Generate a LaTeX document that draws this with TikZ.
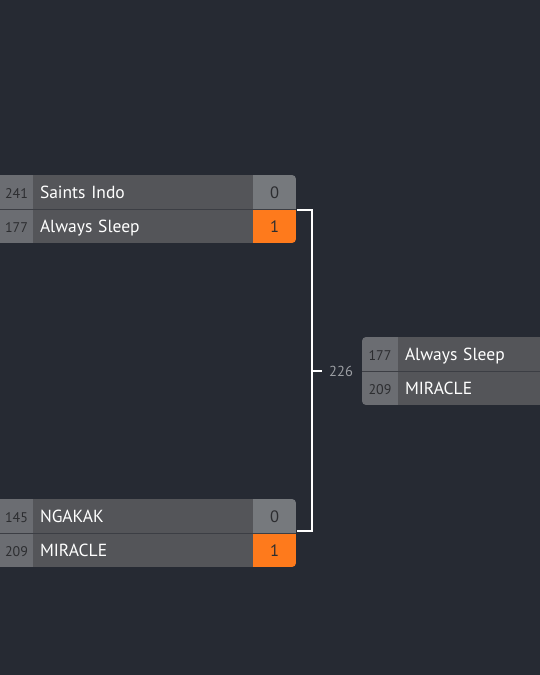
\documentclass[tikz,border=0pt]{standalone}
\usepackage{fontspec}
\setmainfont{PT Sans}
\definecolor{bg}{HTML}{262A33}
\definecolor{seedc}{HTML}{6B6D72}
\definecolor{namec}{HTML}{545559}
\definecolor{scorec}{HTML}{76797D}
\definecolor{winc}{HTML}{FE7A1C}
\definecolor{divc}{HTML}{3C3E44}
\definecolor{seedtxt}{HTML}{2C2D30}
\definecolor{lblc}{HTML}{9B9EA3}
\tikzset{
  cell/.style={rectangle, inner sep=0pt, minimum height=34pt, anchor=north west, outer sep=0pt, text height=13pt, text depth=1pt},
  seedcell/.style={cell, fill=seedc, minimum width=#1, text=seedtxt, font=\fontsize{14}{14}\selectfont},
  namecell/.style={cell, fill=namec, text width=#1, inner xsep=7pt, align=left, text=white, font=\fontsize{17.5}{17.5}\selectfont},
  scorecell/.style={cell, fill=scorec, minimum width=43pt, text=seedtxt, font=\fontsize{16.5}{16.5}\selectfont},
  wincell/.style={scorecell, fill=winc},
  matchbox/.style={rectangle, inner sep=0pt, anchor=north west, minimum height=68pt, outer sep=0pt},
  divider/.style={divc, line width=1pt},
  bracket/.style={white, line width=2pt},
  roundlabel/.style={text=lblc, font=\fontsize{14.5}{14.5}\selectfont, anchor=west, inner sep=0pt}
}
\begin{document}
\begin{tikzpicture}[x=1pt, y=-1pt]
\fill[bg] (0,0) rectangle (540,675);
\useasboundingbox (0,0) rectangle (540,675);

% Match 1
\node[matchbox, minimum width=306pt] (m1) at (-10,175) {};
\begin{scope}
\clip[rounded corners=4pt] (-10,175) rectangle (296,243);
\node[seedcell=43pt] (s11) at (-10,175) {\hspace*{10pt}241};
\node[namecell=206pt] (n11) at (33,175) {Saints Indo};
\node[scorecell] (c11) at (253,175) {0};
\node[seedcell=43pt] (s12) at (-10,209) {\hspace*{10pt}177};
\node[namecell=206pt] (n12) at (33,209) {Always Sleep};
\node[wincell] (c12) at (253,209) {1};
\draw[divider] (-10,209) -- (296,209);
\end{scope}

% Match 2
\node[matchbox, minimum width=306pt] (m2) at (-10,499) {};
\begin{scope}
\clip[rounded corners=4pt] (-10,499) rectangle (296,567);
\node[seedcell=43pt] (s21) at (-10,499) {\hspace*{10pt}145};
\node[namecell=206pt] (n21) at (33,499) {NGAKAK};
\node[scorecell] (c21) at (253,499) {0};
\node[seedcell=43pt] (s22) at (-10,533) {\hspace*{10pt}209};
\node[namecell=206pt] (n22) at (33,533) {MIRACLE};
\node[wincell] (c22) at (253,533) {1};
\draw[divider] (-10,533) -- (296,533);
\end{scope}

% Match 3
\node[matchbox, minimum width=188pt] (m3) at (362,337) {};
\begin{scope}
\clip[rounded corners=4pt] (362,337) rectangle (550,405);
\node[seedcell=36pt] (s31) at (362,337) {177};
\node[namecell=140pt] (n31) at (398,337) {Always Sleep};
\node[seedcell=36pt] (s32) at (362,371) {209};
\node[namecell=140pt] (n32) at (398,371) {MIRACLE};
\draw[divider] (362,371) -- (550,371);
\end{scope}

% Bracket
\coordinate (j) at (312,371);
\coordinate (t) at (322,371);
\draw[bracket] ([xshift=1pt,yshift=-1pt]m1.east) -| (j) |- ([xshift=1pt,yshift=2pt]m2.east);
\draw[bracket] (j) -- (t);
\node[roundlabel] (lbl) at (329,371) {226};
\end{tikzpicture}
\end{document}
